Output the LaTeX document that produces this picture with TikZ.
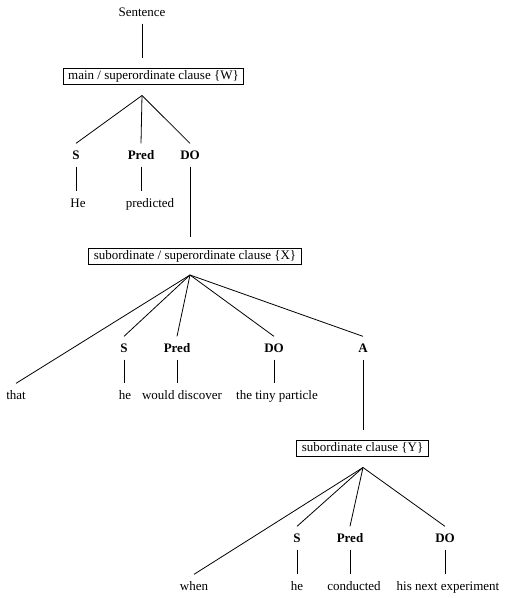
\documentclass[tikz,border=0pt]{standalone}
\usepackage{fontspec}
\setmainfont{Liberation Serif}
\usetikzlibrary{calc}
\tikzset{
  word/.style={font=\fontsize{13}{15}\selectfont, inner xsep=1pt, inner ysep=7pt, text height=8.5pt, text depth=0pt},
  role/.style={word, font=\fontsize{13}{15}\selectfont\bfseries},
  clause/.style={draw, font=\fontsize{13}{15}\selectfont, inner xsep=5pt, inner ysep=2pt, text height=9pt, text depth=3pt, outer ysep=11pt},
}
\begin{document}
\begin{tikzpicture}[x=1pt,y=-1pt,line width=0.8pt]
\useasboundingbox (0,0) rectangle (528,598);
\node[word] (sent) at (142,12) {Sentence};
\node[clause] (W) at (153.5,76.5) {main / superordinate clause \{W\}};
\node[role] (sW) at (76,155) {S};
\node[role] (pW) at (141,155) {Pred};
\node[role] (dW) at (190,155) {DO};
\node[word] (he1) at (78,203) {He};
\node[word] (pred1) at (150,203) {predicted};
\node[clause] (X) at (195,256) {subordinate / superordinate clause \{X\}};
\node[role] (sX) at (124,348) {S};
\node[role] (pX) at (177,348) {Pred};
\node[role] (dX) at (274,348) {DO};
\node[role] (aX) at (363,348) {A};
\node[word] (that) at (16,395) {that};
\node[word] (he2) at (125,395) {he};
\node[word] (disc) at (182,395) {would discover};
\node[word] (part) at (277,395) {the tiny particle};
\node[clause] (Y) at (362.5,448.5) {subordinate clause \{Y\}};
\node[role] (sY) at (297,538) {S};
\node[role] (pY) at (350,538) {Pred};
\node[role] (dY) at (445,538) {DO};
\node[word] (when) at (194,586) {when};
\node[word] (he3) at (297,586) {he};
\node[word] (cond) at (354,586) {conducted};
\node[word] (exp) at (448,586) {his next experiment};
\coordinate (fanW) at (sent.south |- W.south);
\coordinate (fanX) at (dW.south |- X.south);
\coordinate (fanY) at (aX.south |- Y.south);
\draw (sent.south) -- (sent.south |- W.north);
\draw (fanW) -- (sW.north);
\draw (fanW) -- (pW.north);
\draw (fanW) -- (dW.north);
\draw (sW.south) -- (sW.south |- he1.north);
\draw (pW.south) -- (pW.south |- pred1.north);
\draw (dW.south) -- (dW.south |- X.north);
\draw (fanX) -- (that.north);
\draw (fanX) -- (sX.north);
\draw (fanX) -- (pX.north);
\draw (fanX) -- (dX.north);
\draw (fanX) -- (aX.north);
\draw (sX.south) -- (sX.south |- he2.north);
\draw (pX.south) -- (pX.south |- disc.north);
\draw (dX.south) -- (dX.south |- part.north);
\draw (aX.south) -- (aX.south |- Y.north);
\draw (fanY) -- (when.north);
\draw (fanY) -- (sY.north);
\draw (fanY) -- (pY.north);
\draw (fanY) -- (dY.north);
\draw (sY.south) -- (sY.south |- he3.north);
\draw (pY.south) -- (pY.south |- cond.north);
\draw (dY.south) -- (dY.south |- exp.north);
\end{tikzpicture}
\end{document}
